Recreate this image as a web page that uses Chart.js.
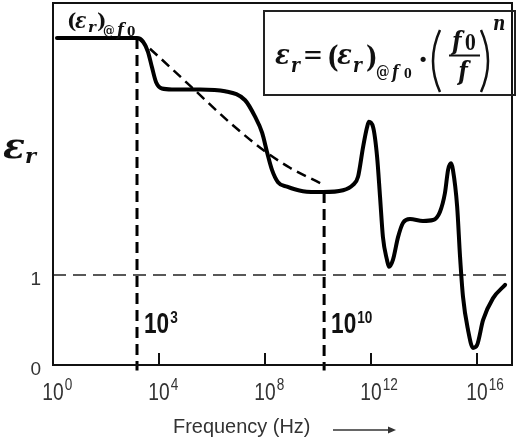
<!DOCTYPE html>
<html>
<head>
<meta charset="utf-8">
<script src="https://cdn.jsdelivr.net/npm/chart.js@4.4.1/dist/chart.umd.min.js"></script>
<style>
html, body { margin: 0; padding: 0; background: #fff; }
#wrap { width: 520px; height: 445px; }
</style>
</head>
<body>
<div id="wrap"><canvas id="chart" width="520" height="445"></canvas></div>
<script>
// Data: x is log10(frequency / Hz), y is relative permittivity
const curveFreqExp = [0.15, 3.17, 3.40, 3.58, 3.74, 3.89, 4.11, 4.49, 5.55, 6.49, 7.25, 7.62, 7.89, 8.08, 8.26, 8.49, 8.83, 9.43, 10.19, 10.94, 11.32, 11.51, 11.70, 11.85, 11.92, 12.08, 12.23, 12.34, 12.45, 12.60, 12.68, 12.83, 13.02, 13.21, 13.47, 13.96, 14.34, 14.60, 14.79, 14.91, 15.02, 15.09, 15.25, 15.36, 15.47, 15.66, 15.85, 16.00, 16.23, 16.60, 17.06];
const curveEps = [3.63, 3.63, 3.59, 3.48, 3.30, 3.14, 3.07, 3.06, 3.06, 3.04, 2.94, 2.76, 2.58, 2.36, 2.17, 2.03, 1.98, 1.93, 1.92, 1.94, 2.00, 2.09, 2.42, 2.64, 2.70, 2.64, 2.31, 1.87, 1.42, 1.17, 1.09, 1.17, 1.42, 1.58, 1.62, 1.60, 1.61, 1.70, 1.91, 2.17, 2.24, 2.17, 1.76, 1.20, 0.76, 0.39, 0.19, 0.22, 0.50, 0.74, 0.89];

// power-law trend (dashed)
const trendFreqExp = [3.21, 4.04, 5.25, 6.68, 7.92, 8.94, 10.08];
const trendEps = [3.63, 3.41, 3.08, 2.69, 2.39, 2.19, 2.02];

// reference lines
const unityEps = 1;
const markerExps = [3.17, 10.23];
const markerTopEps = [3.63, 1.92];
const markerLabels = ['3', '10'];

// axes
const xTickExps = [0, 4, 8, 12, 16];
const yTickValues = [0, 1];
const xMax = 17.32;
const yMax = 4.02;

const zip = (xs, ys) => xs.map((x, i) => ({x: x, y: ys[i]}));

const SERIF = '"DejaVu Serif", serif';
const SANS = '"Liberation Sans", Arial, sans-serif';
const fi = (s) => 'italic bold ' + s + 'px ' + SERIF;
const fb = (s) => 'bold ' + s + 'px ' + SERIF;

// draws text squeezed horizontally by sx, returns drawn width
const text = (ctx, s, x, y, font, align, color, sx) => {
    sx = sx || 1;
    ctx.save();
    ctx.font = font;
    ctx.textAlign = align || 'left';
    ctx.textBaseline = 'alphabetic';
    ctx.fillStyle = color || '#111';
    ctx.translate(x, y);
    ctx.scale(sx, 1);
    ctx.fillText(s, 0, 0);
    const w = ctx.measureText(s).width * sx;
    ctx.restore();
    return w;
}

const paren = (ctx, x, top, bottom, dir) => {
    ctx.beginPath();
    ctx.moveTo(x, top);
    ctx.quadraticCurveTo(x - dir * 14, (top + bottom) / 2, x, bottom);
    ctx.lineWidth = 2.5;
    ctx.strokeStyle = '#111';
    ctx.stroke();
}

const decorations = {
    id: 'decorations',
    afterDraw(chart) {
        const ctx = chart.ctx;
        const a = chart.chartArea;
        const xs = chart.scales.x;
        const ys = chart.scales.y;
        ctx.save();

        // frame
        ctx.strokeStyle = '#111';
        ctx.lineWidth = 2;
        ctx.setLineDash([]);
        ctx.strokeRect(a.left, a.top, a.right - a.left, a.bottom - a.top);

        // inner ticks + tick labels
        xTickExps.forEach((e) => {
            const px = xs.getPixelForValue(e);
            ctx.beginPath();
            ctx.moveTo(px, a.bottom);
            ctx.lineTo(px, a.bottom - 12);
            ctx.lineWidth = 2;
            ctx.strokeStyle = '#111';
            ctx.stroke();
            const w = text(ctx, '10', px, a.bottom + 35, '24px ' + SANS, 'center', '#333', 0.8);
            text(ctx, String(e), px + w / 2 + 1, a.bottom + 25, '16px ' + SANS, 'left', '#333', 0.85);
        });
        yTickValues.forEach((v) => {
            const py = ys.getPixelForValue(v);
            text(ctx, String(v), a.left - 12, py + 10, '19px ' + SANS, 'right', '#333');
        });

        // x title + arrow
        text(ctx, 'Frequency (Hz)', 173, 433, '21px ' + SANS, 'left', '#333', 0.95);
        ctx.beginPath();
        ctx.moveTo(333, 430);
        ctx.lineTo(390, 430);
        ctx.lineWidth = 1.5;
        ctx.strokeStyle = '#333';
        ctx.stroke();
        ctx.beginPath();
        ctx.moveTo(396, 430);
        ctx.lineTo(388, 426.5);
        ctx.lineTo(388, 433.5);
        ctx.closePath();
        ctx.fillStyle = '#333';
        ctx.fill();

        // y title
        text(ctx, 'ε', 3, 158, fi(36));
        text(ctx, 'r', 25, 163, fi(21));

        // marker labels
        markerExps.forEach((m, i) => {
            const px = xs.getPixelForValue(m) + 7;
            const w = text(ctx, '10', px, a.bottom - 32, 'bold 29px ' + SANS, 'left', '#111', 0.78);
            text(ctx, markerLabels[i], px + w + 1, a.bottom - 42, 'bold 17px ' + SANS, 'left', '#111', 0.8);
        });

        // (εr)@f0 label above plateau
        text(ctx, '(', 67, 28, fb(20));
        text(ctx, 'ε', 75, 28, fi(22), 'left', '#111', 0.85);
        text(ctx, 'r', 88, 32, fi(15));
        text(ctx, ')', 97, 28, fb(20));
        text(ctx, '@', 103, 35, fb(13), 'left', '#111', 0.9);
        text(ctx, 'f', 117, 35, fi(16));
        text(ctx, '0', 127, 36, fb(12));

        // formula box
        ctx.strokeStyle = '#222';
        ctx.lineWidth = 2;
        ctx.strokeRect(264, 11, 251, 84);
        text(ctx, 'ε', 275, 64, fi(27), 'left', '#111', 0.9);
        text(ctx, 'r', 291, 72, fi(20), 'left', '#111', 0.85);
        text(ctx, '=', 313, 64, '27px ' + SERIF, 'center', '#111', 0.9);
        text(ctx, '(', 327, 67, fb(29), 'left', '#111', 0.85);
        text(ctx, 'ε', 337, 64, fi(27), 'left', '#111', 0.9);
        text(ctx, 'r', 353, 72, fi(20), 'left', '#111', 0.85);
        text(ctx, ')', 366, 67, fb(29), 'left', '#111', 0.85);
        text(ctx, '@', 376, 77, fb(16), 'left', '#111', 0.85);
        text(ctx, 'f', 392, 78, fi(18), 'left', '#111', 0.85);
        text(ctx, '0', 404, 78, fb(13), 'left', '#111', 0.85);
        text(ctx, '·', 423, 69, fb(28), 'center');
        paren(ctx, 440, 30, 92, 1);
        paren(ctx, 481, 30, 92, -1);
        text(ctx, 'f', 452, 50, fi(26), 'left', '#111', 0.85);
        text(ctx, '0', 465, 50, fb(22), 'left', '#111', 0.7);
        ctx.beginPath();
        ctx.moveTo(449, 55.5);
        ctx.lineTo(480, 55.5);
        ctx.lineWidth = 2;
        ctx.strokeStyle = '#111';
        ctx.stroke();
        text(ctx, 'f', 463, 80, fi(26), 'center', '#111', 0.85);
        text(ctx, 'n', 493, 30, fi(20), 'left', '#111', 0.85);

        ctx.restore();
    }
}

new Chart(document.getElementById('chart'), {
    type: 'line',
    data: {
        datasets: [
            {
                data: zip(curveFreqExp, curveEps),
                borderColor: '#000',
                borderWidth: 4,
                pointRadius: 0,
                cubicInterpolationMode: 'monotone',
                borderJoinStyle: 'round',
                borderCapStyle: 'round'
            },
            {
                data: zip(trendFreqExp, trendEps),
                borderColor: '#000',
                borderWidth: 2.5,
                borderDash: [10, 6],
                pointRadius: 0,
                cubicInterpolationMode: 'monotone'
            },
            {
                data: [{x: 0, y: unityEps}, {x: xMax, y: unityEps}],
                borderColor: '#222',
                borderWidth: 1.5,
                borderDash: [13, 7],
                pointRadius: 0
            },
            ...markerExps.map((m, i) => ({
                data: [{x: m, y: markerTopEps[i]}, {x: m, y: -0.06}],
                borderColor: '#000',
                borderWidth: 3,
                borderDash: [11, 6],
                pointRadius: 0,
                clip: false
            }))
        ]
    },
    options: {
        responsive: false,
        animation: false,
        layout: {padding: {left: 53, right: 8, top: 3, bottom: 80}},
        plugins: {legend: {display: false}, tooltip: {enabled: false}},
        scales: {
            x: {type: 'linear', min: 0, max: xMax, display: false},
            y: {type: 'linear', min: 0, max: yMax, display: false}
        }
    },
    plugins: [decorations]
});
</script>
</body>
</html>
